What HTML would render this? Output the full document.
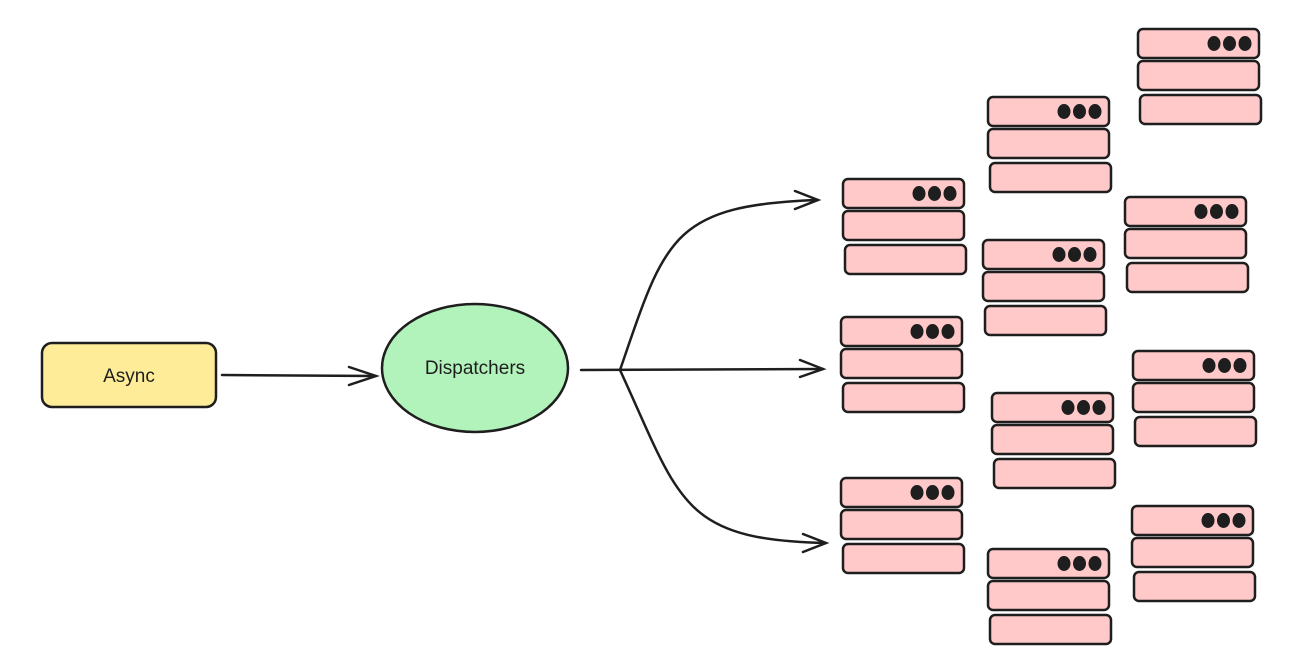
<!DOCTYPE html>
<html><head><meta charset="utf-8"><style>
html,body{margin:0;padding:0;background:#fff;}
svg{display:block;}
text{font-family:"Liberation Sans",sans-serif;font-size:19px;fill:#1e1e1e;}
</style></head><body>
<svg width="1292" height="669" viewBox="0 0 1292 669" xmlns="http://www.w3.org/2000/svg">
<defs>
<g id="st" stroke="#1e1e1e" stroke-width="2.5">
<rect x="0" y="0" width="121" height="29" rx="5" fill="#ffc9c9"/>
<rect x="0" y="32" width="121" height="29" rx="5" fill="#ffc9c9"/>
<rect x="2" y="66" width="121" height="29" rx="5" fill="#ffc9c9"/>
<ellipse cx="76" cy="14.5" rx="6.5" ry="7.5" fill="#1e1e1e" stroke="none"/>
<ellipse cx="91.5" cy="14.5" rx="6.5" ry="7.5" fill="#1e1e1e" stroke="none"/>
<ellipse cx="107" cy="14.5" rx="6.5" ry="7.5" fill="#1e1e1e" stroke="none"/>
</g>
</defs>
<rect x="42" y="343" width="174" height="64" rx="10" fill="#ffec99" stroke="#1e1e1e" stroke-width="2.5"/>
<text x="129" y="382" text-anchor="middle">Async</text>
<ellipse cx="475" cy="368" rx="93" ry="64" fill="#b2f2bb" stroke="#1e1e1e" stroke-width="2.5"/>
<text x="475" y="374" text-anchor="middle">Dispatchers</text>
<g fill="none" stroke="#1e1e1e" stroke-width="2.5" stroke-linecap="round">
<path d="M222 375 L376 376"/><path d="M349 367 L376 376 L349 385"/>
<path d="M581 370 L823 369"/><path d="M800 360 L823 369 L800 377"/>
<path d="M620 370 C665 240 670 205 818 200"/><path d="M795 191 L818 200 L795 209"/>
<path d="M620 370 C680 500 680 540 826 543"/><path d="M803 534 L826 543 L803 552"/>
</g>
<use href="#st" x="843" y="179"/>
<use href="#st" x="841" y="317"/>
<use href="#st" x="841" y="478"/>
<use href="#st" x="988" y="97"/>
<use href="#st" x="983" y="240"/>
<use href="#st" x="992" y="393"/>
<use href="#st" x="988" y="549"/>
<use href="#st" x="1138" y="29"/>
<use href="#st" x="1125" y="197"/>
<use href="#st" x="1133" y="351"/>
<use href="#st" x="1132" y="506"/>
</svg>
</body></html>
